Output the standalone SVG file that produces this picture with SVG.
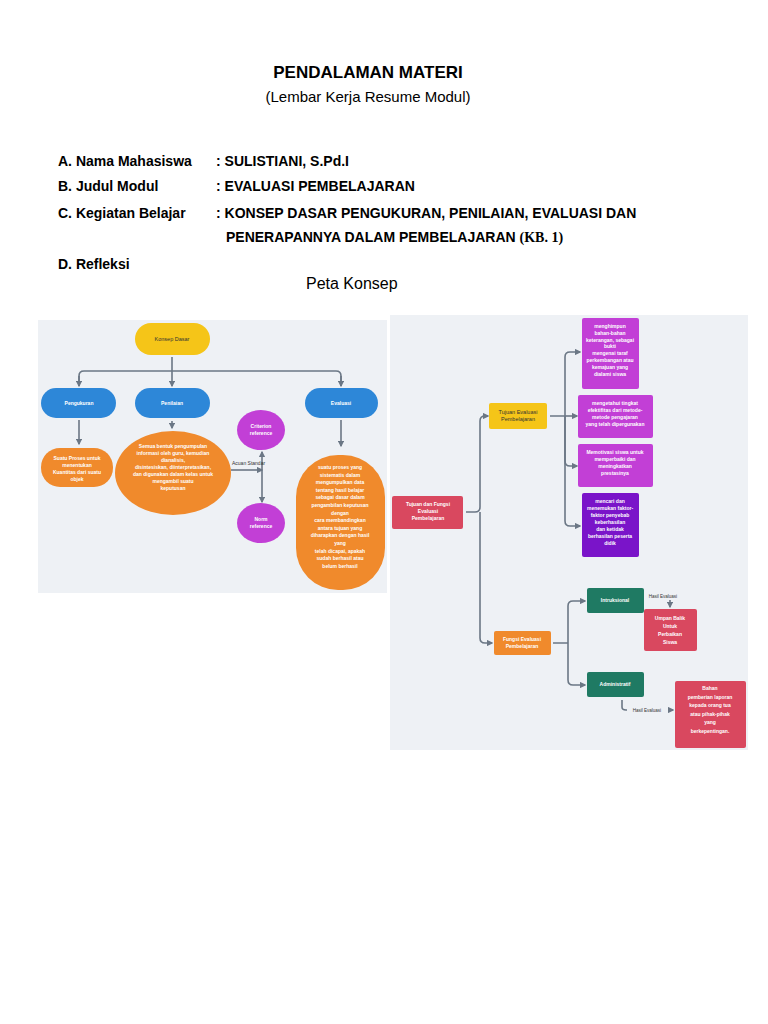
<svg xmlns="http://www.w3.org/2000/svg" width="768" height="1024" viewBox="0 0 768 1024">
<style>
.h{font-family:"Liberation Sans",Arial,sans-serif;fill:#000}
.b{font-weight:bold}
.t{font-family:"Liberation Sans",Arial,sans-serif;font-size:5px;fill:#fff;text-anchor:middle;font-weight:bold}
.d{font-family:"Liberation Sans",Arial,sans-serif;font-size:5.5px;fill:#333;text-anchor:middle}
.c{fill:none;stroke:#6b7785;stroke-width:1.6}
</style>
<defs><marker id="a" viewBox="0 0 10 10" refX="8" refY="5" markerWidth="4" markerHeight="4" orient="auto"><path d="M0,0L10,5L0,10z" fill="#6b7785"/></marker></defs>
<rect width="768" height="1024" fill="#fff"/>
<text class="h b" x="368" y="78" font-size="17" text-anchor="middle">PENDALAMAN MATERI</text>
<text class="h" x="368" y="102" font-size="15" text-anchor="middle">(Lembar Kerja Resume Modul)</text>
<g class="h b" font-size="14">
<text x="58" y="166">A.  Nama Mahasiswa</text><text x="216" y="166">: SULISTIANI, S.Pd.I</text>
<text x="58" y="191">B.  Judul Modul</text><text x="216" y="191">: EVALUASI PEMBELAJARAN</text>
<text x="58" y="218">C.  Kegiatan Belajar</text><text x="216" y="218">: KONSEP DASAR PENGUKURAN, PENILAIAN, EVALUASI DAN</text>
<text x="226" y="242">PENERAPANNYA DALAM PEMBELAJARAN <tspan font-family="Liberation Serif,serif">(KB. 1)</tspan></text>
<text x="58" y="269">D.  Refleksi</text>
</g>
<text class="h" x="306" y="289" font-size="16">Peta Konsep</text>
<rect x="38" y="320" width="349" height="273" fill="#eef1f5"/>
<rect x="390" y="315" width="358" height="435" fill="#eef1f5"/>
<g id="connectors">
<path class="c" d="M172,357V371M79,386V376Q79,371 84,371H336Q341,371 341,376V386M172,371V386" marker-end="url(#a)"/>
<path class="c" d="M79,386V376" marker-start="url(#a)" style="display:none"/>
<path class="c" d="M79,376V386" marker-end="url(#a)"/>
<path class="c" d="M341,376V386" marker-end="url(#a)"/>
<path class="c" d="M79,420V444" marker-end="url(#a)"/>
<path class="c" d="M172,421V428" marker-end="url(#a)"/>
<path class="c" d="M341,420V446" marker-end="url(#a)"/>
<path class="c" d="M231,470H262" marker-end="url(#a)"/>
<path class="c" d="M262,470V452" marker-end="url(#a)"/>
<path class="c" d="M262,470V502" marker-end="url(#a)"/>
<path class="c" d="M466,512H475Q480,512 480,507V421Q480,416 485,416H488" marker-end="url(#a)"/>
<path class="c" d="M480,512V638Q480,643 485,643H492" marker-end="url(#a)"/>
<path class="c" d="M550,416H565M565,416V357Q565,352 570,352H580" marker-end="url(#a)"/>
<path class="c" d="M565,416H577" marker-end="url(#a)"/>
<path class="c" d="M565,416V521Q565,526 570,526H580" marker-end="url(#a)"/>
<path class="c" d="M565,416V461Q565,466 570,466H577" marker-end="url(#a)"/>
<path class="c" d="M553,643H568M568,643V606Q568,601 573,601H585" marker-end="url(#a)"/>
<path class="c" d="M568,643V680Q568,685 573,685H585" marker-end="url(#a)"/>
<path class="c" d="M670,600V607" stroke-width="1" marker-end="url(#a)"/>
<path class="c" d="M622,700V707Q622,710 626,710H627M668,710H673" stroke-width="1" marker-end="url(#a)"/>
<text x="232" y="465" font-family="Liberation Sans,Arial,sans-serif" font-size="5" fill="#333">Acuan Standar</text>
<text x="663" y="598" font-family="Liberation Sans,Arial,sans-serif" font-size="4.5" fill="#333" text-anchor="middle">Hasil Evaluasi</text>
<text x="647" y="712" font-family="Liberation Sans,Arial,sans-serif" font-size="4.5" fill="#333" text-anchor="middle">Hasil Evaluasi</text>
</g>
<g id="konsep"><rect x="135" y="323" width="75" height="32" rx="16" fill="#f5c518"/><text class="d" x="172" y="341">Konsep Dasar</text></g>
<g id="pengukuran"><rect x="41" y="388" width="75" height="30" rx="15" fill="#2d87d8"/><text class="t" x="79" y="405">Pengukuran</text></g>
<g id="penilaian"><rect x="135" y="388" width="75" height="30" rx="15" fill="#2d87d8"/><text class="t" x="172" y="405">Penilaian</text></g>
<g id="evaluasi"><rect x="305" y="388" width="73" height="30" rx="15" fill="#2d87d8"/><text class="t" x="341" y="405">Evaluasi</text></g>
<g id="criterion"><ellipse cx="261" cy="430" rx="24" ry="20" fill="#c23fd6"/><text class="t" x="261" y="428">Criterion<tspan x="261" dy="7">reference</tspan></text></g>
<g id="norm"><ellipse cx="261" cy="523" rx="24" ry="20" fill="#c23fd6"/><text class="t" x="261" y="521">Norm<tspan x="261" dy="7">reference</tspan></text></g>
<g id="ukur-desc"><rect x="41" y="448" width="72" height="39" rx="19" fill="#f08a2c"/><text class="t" x="77" y="460">Suatu Proses untuk<tspan x="77" dy="7">menentukan</tspan><tspan x="77" dy="7">Kuantitas dari suatu</tspan><tspan x="77" dy="7">objek</tspan></text></g>
<g id="nilai-desc"><ellipse cx="173" cy="473" rx="58" ry="42" fill="#f08a2c"/><text class="t" x="173" y="448">Semua bentuk pengumpulan<tspan x="173" dy="7">informasi oleh guru, kemudian</tspan><tspan x="173" dy="7">dianalisis,</tspan><tspan x="173" dy="7">disintesiskan, diinterpretasikan,</tspan><tspan x="173" dy="7">dan digunakan dalam kelas untuk</tspan><tspan x="173" dy="7">mengambil suatu</tspan><tspan x="173" dy="7">keputusan</tspan></text></g>
<g id="eval-desc"><rect x="296" y="455" width="89" height="135" rx="42" fill="#f08a2c"/><text class="t" x="340" y="469">suatu proses yang<tspan x="340" dy="7.6">sistematis dalam</tspan><tspan x="340" dy="7.6">mengumpulkan data</tspan><tspan x="340" dy="7.6">tentang hasil belajar</tspan><tspan x="340" dy="7.6">sebagai dasar dalam</tspan><tspan x="340" dy="7.6">pengambilan keputusan</tspan><tspan x="340" dy="7.6">dengan</tspan><tspan x="340" dy="7.6">cara membandingkan</tspan><tspan x="340" dy="7.6">antara tujuan yang</tspan><tspan x="340" dy="7.6">diharapkan dengan hasil</tspan><tspan x="340" dy="7.6">yang</tspan><tspan x="340" dy="7.6">telah dicapai, apakah</tspan><tspan x="340" dy="7.6">sudah berhasil atau</tspan><tspan x="340" dy="7.6">belum berhasil</tspan></text></g>
<g id="tujuan-fungsi"><rect x="392" y="496" width="71" height="33" rx="2" fill="#d9485f"/><text class="t" x="428" y="506" font-weight="normal">Tujuan dan Fungsi<tspan x="428" dy="7">Evaluasi</tspan><tspan x="428" dy="7">Pembelajaran</tspan></text></g>
<g id="tujuan"><rect x="489" y="403" width="58" height="26" rx="2" fill="#f5c518"/><text class="d" x="518" y="414">Tujuan Evaluasi<tspan x="518" dy="7">Pembelajaran</tspan></text></g>
<g id="p1"><rect x="582" y="318" width="57" height="71" rx="2" fill="#c23fd6"/><text class="t" x="610" y="328" font-size="4.2">menghimpun<tspan x="610" dy="6.8">bahan-bahan</tspan><tspan x="610" dy="6.8">keterangan, sebagai</tspan><tspan x="610" dy="6.8">bukti</tspan><tspan x="610" dy="6.8">mengenai taraf</tspan><tspan x="610" dy="6.8">perkembangan atau</tspan><tspan x="610" dy="6.8">kemajuan yang</tspan><tspan x="610" dy="6.8">dialami siswa</tspan></text></g>
<g id="p2"><rect x="578" y="395" width="75" height="43" rx="2" fill="#c23fd6"/><text class="t" x="615" y="405" font-size="4.2">mengetahui tingkat<tspan x="615" dy="7">efektifitas dari metode-</tspan><tspan x="615" dy="7">metode pengajaran</tspan><tspan x="615" dy="7">yang telah dipergunakan</tspan></text></g>
<g id="p3"><rect x="578" y="444" width="75" height="43" rx="2" fill="#c23fd6"/><text class="t" x="615" y="454" font-size="4.2">Memotivasi siswa untuk<tspan x="615" dy="7">memperbaiki dan</tspan><tspan x="615" dy="7">meningkatkan</tspan><tspan x="615" dy="7">prestasinya</tspan></text></g>
<g id="p4"><rect x="582" y="493" width="57" height="64" rx="2" fill="#7a14c9"/><text class="t" x="610" y="503" font-size="4.2">mencari dan<tspan x="610" dy="7">menemukan faktor-</tspan><tspan x="610" dy="7">faktor penyebab</tspan><tspan x="610" dy="7">keberhasilan</tspan><tspan x="610" dy="7">dan ketidak</tspan><tspan x="610" dy="7">berhasilan peserta</tspan><tspan x="610" dy="7">didik</tspan></text></g>
<g id="fungsi"><rect x="494" y="631" width="57" height="24" rx="2" fill="#f08a2c"/><text class="t" x="522" y="641" font-weight="normal">Fungsi Evaluasi<tspan x="522" dy="7">Pembelajaran</tspan></text></g>
<g id="intruksional"><rect x="587" y="588" width="57" height="25" rx="2" fill="#1f7a63"/><text class="t" x="615" y="602">Intruksional</text></g>
<g id="admin"><rect x="587" y="672" width="57" height="25" rx="2" fill="#1f7a63"/><text class="t" x="615" y="686">Administratif</text></g>
<g id="umpan"><rect x="644" y="609" width="53" height="42" rx="2" fill="#d9485f"/><text class="t" x="670" y="620">Umpan Balik<tspan x="670" dy="8">Untuk</tspan><tspan x="670" dy="8">Perbaikan</tspan><tspan x="670" dy="8">Siswa</tspan></text></g>
<g id="bahan"><rect x="675" y="681" width="71" height="67" rx="2" fill="#d9485f"/><text class="t" x="710" y="690" font-size="4.5">Bahan<tspan x="710" dy="8.5">pemberian laporan</tspan><tspan x="710" dy="8.5">kepada orang tua</tspan><tspan x="710" dy="8.5">atau pihak-pihak</tspan><tspan x="710" dy="8.5">yang</tspan><tspan x="710" dy="8.5">berkepentingan.</tspan></text></g>
</svg>
